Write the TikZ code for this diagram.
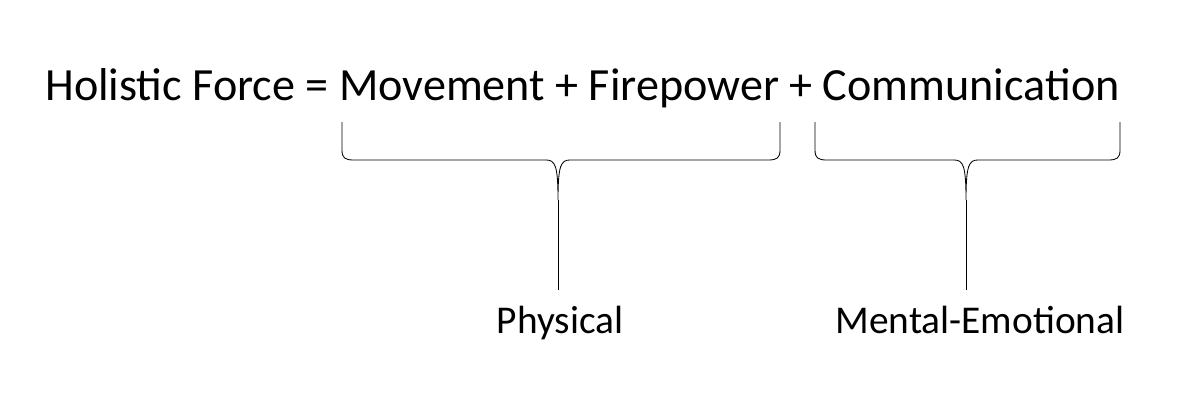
\documentclass[tikz,border=0pt]{standalone}
\usepackage{fontspec}
\setmainfont{Carlito}
\begin{document}
\begin{tikzpicture}[x=0.025cm,y=-0.025cm,
  big/.style={font=\fontsize{32.8}{38}\selectfont,inner sep=0,anchor=base west},
  lab/.style={font=\fontsize{28}{32}\selectfont,inner sep=0,anchor=base},
  br/.style={line width=0.6pt,black}]
\useasboundingbox (0,0) rectangle (1200,409);
\node[big] (eq) at (45,100) {Holistic Force = Movement + Firepower + Communication};
\node[lab] (phys) at (560,333) {Physical};
\node[lab] (ment) at (980,333) {Mental-Emotional};
% left brace
\coordinate (lt) at (558,200);
\coordinate (lb) at (558,290);
\draw[br] (342,122) -- (342,150) .. controls (342,158) and (345,160) .. (354,160) -- (546,160)
  .. controls (555,160) and (558,165) .. (lt) .. controls (558,165) and (561,160) .. (570,160) -- (768,160)
  .. controls (777,160) and (780,158) .. (780,150) -- (780,122);
\draw[br] (lt) -- (lb);
% right brace
\coordinate (rt) at (966,200);
\coordinate (rb) at (966,290);
\draw[br] (815,122) -- (815,150) .. controls (815,158) and (818,160) .. (827,160) -- (954,160)
  .. controls (963,160) and (966,165) .. (rt) .. controls (966,165) and (969,160) .. (978,160) -- (1108,160)
  .. controls (1117,160) and (1120,158) .. (1120,150) -- (1120,122);
\draw[br] (rt) -- (rb);
\end{tikzpicture}
\end{document}
